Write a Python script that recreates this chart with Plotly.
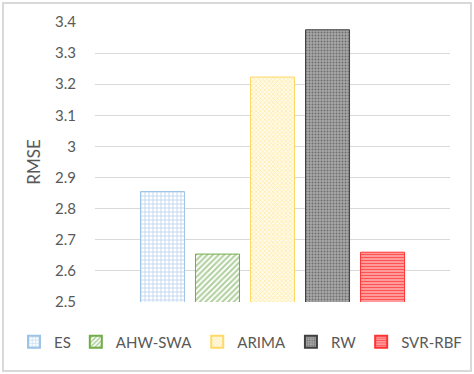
import plotly.graph_objects as go

series_names = ["ES", "AHW-SWA", "ARIMA", "RW", "SVR-RBF"]
rmse_values = [2.855, 2.654, 3.223, 3.375, 2.660]
category = ["RMSE"]
y_ticks = [2.5, 2.6, 2.7, 2.8, 2.9, 3.0, 3.1, 3.2, 3.3, 3.4]
y_tick_labels = ["2.5", "2.6", "2.7", "2.8", "2.9", "3", "3.1", "3.2", "3.3", "3.4"]

styles = [
    dict(shape="+", fg="#6FA3DA", bg="#FFFFFF", size=4, solidity=0.35, line="#9DC3E6"),
    dict(shape="/", fg="#5E9E38", bg="#FFFFFF", size=4, solidity=0.5, line="#70AD47"),
    dict(shape="x", fg="#FFD966", bg="#FFFBEA", size=3, solidity=0.45, line="#FFD966"),
    dict(shape=".", fg="#333333", bg="#A8A8A8", size=3, solidity=0.35, line="#404040"),
    dict(shape="-", fg="#FF0000", bg="#FFA8A8", size=3, solidity=0.45, line="#FF3333"),
]

FONT = "Lato, 'DejaVu Sans', sans-serif"
TXT = "#595959"

fig = go.Figure()
for name, val, st in zip(series_names, rmse_values, styles):
    fig.add_trace(go.Bar(
        x=category, y=[val], name=name,
        marker=dict(
            color=st["bg"],
            line=dict(color=st["line"], width=1),
            pattern=dict(shape=st["shape"], fgcolor=st["fg"], bgcolor=st["bg"],
                         size=st["size"], solidity=st["solidity"], fillmode="overlay"),
        ),
    ))

W, H = 474, 374
L, R, T, B = 95, 24, 22, 72
pw, ph = W - L - R, H - T - B

fig.update_layout(
    width=W, height=H,
    margin=dict(l=L, r=R, t=T, b=B, autoexpand=False),
    paper_bgcolor="#FFFFFF", plot_bgcolor="#FFFFFF",
    barmode="group", bargap=0.225, bargroupgap=0.2,
    font=dict(family=FONT, color=TXT),
    showlegend=True,
    legend=dict(orientation="h", xref="paper", yref="paper",
                x=(14 - L) / pw, xanchor="left", y=-(342 - (T + ph)) / ph, yanchor="middle",
                font=dict(size=15, color=TXT, family=FONT),
                bgcolor="rgba(0,0,0,0)", borderwidth=0,
                traceorder="normal", itemsizing="constant", itemwidth=30),
    xaxis=dict(showticklabels=False, showgrid=False, zeroline=False, showline=False,
               range=[-0.5, 0.5]),
    yaxis=dict(range=[2.5, 3.4], tickvals=y_ticks, ticktext=y_tick_labels,
               showgrid=True, gridcolor="#D9D9D9", gridwidth=1, zeroline=False,
               showline=False, ticks="", ticklabelstandoff=18,
               tickfont=dict(size=15, color=TXT, family=FONT),
               title=dict(text="RMSE", font=dict(size=17, color=TXT, family=FONT), standoff=10)),
    shapes=[dict(type="rect", xref="paper", yref="paper",
                 x0=(3 - L) / pw, x1=(471 - L) / pw,
                 y0=(T + ph - 371) / ph, y1=(T + ph - 3) / ph,
                 line=dict(color="#D9D9D9", width=2), layer="below")],
)

fig.write_html("out.html", config={"displayModeBar": False},
               post_script="document.body.style.margin='0';document.body.style.padding='0';")
